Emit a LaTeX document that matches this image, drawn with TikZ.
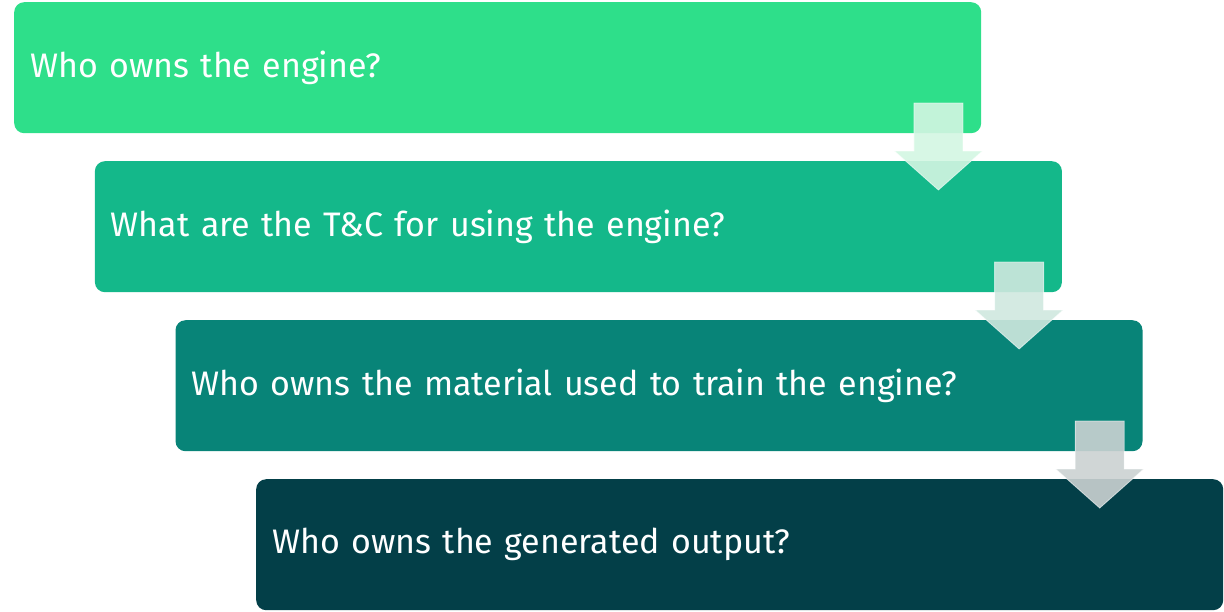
\documentclass[tikz,border=0pt]{standalone}
\usepackage{fontspec}
\setmainfont{Fira Sans}
\usetikzlibrary{positioning}

\definecolor{qone}{HTML}{2EDF8A}
\definecolor{qtwo}{HTML}{14B88A}
\definecolor{qthree}{HTML}{088478}
\definecolor{qfour}{HTML}{033F48}
\definecolor{aone}{HTML}{D3F6E2}
\definecolor{atwo}{HTML}{CFE8DF}
\definecolor{athree}{HTML}{CBD2D2}

\tikzset{
	qbox/.style={rounded corners=10pt, minimum width=967pt, minimum height=131pt,
		text width=935pt, align=left, inner xsep=15pt, anchor=north west,
		text=white, font=\fontsize{34}{40}\selectfont},
	downarr/.style={fill opacity=.9, draw=white, draw opacity=.6, line width=.8pt}
}

\begin{document}
\begin{tikzpicture}[x=1pt,y=-1pt]
	\useasboundingbox (0,0) rectangle (1224,611);
	
	% question boxes
	\node[qbox, fill=qone] (q1) at (14,2) {Who owns the engine?};
	\node[qbox, fill=qtwo] (q2) at (94.7,161) {What are the T\&C for using the engine?};
	\node[qbox, fill=qthree] (q3) at (175.3,320) {Who owns the material used to train the engine?};
	\node[qbox, fill=qfour] (q4) at (256,479) {Who owns the generated output?};
	
	% arrows between boxes
	\path[downarr, fill=aone] (q1.north east) ++(-67.5,101) -- ++(49,0) -- ++(0,48) -- ++(19.5,0)
		-- ++(-44,39) -- ++(-44,-39) -- ++(19.5,0) -- cycle;
	\path[downarr, fill=atwo] (q2.north east) ++(-67.5,101) -- ++(49,0) -- ++(0,48) -- ++(19.5,0)
		-- ++(-44,39) -- ++(-44,-39) -- ++(19.5,0) -- cycle;
	\path[downarr, fill=athree] (q3.north east) ++(-67.5,101) -- ++(49,0) -- ++(0,48) -- ++(19.5,0)
		-- ++(-44,39) -- ++(-44,-39) -- ++(19.5,0) -- cycle;
\end{tikzpicture}
\end{document}
